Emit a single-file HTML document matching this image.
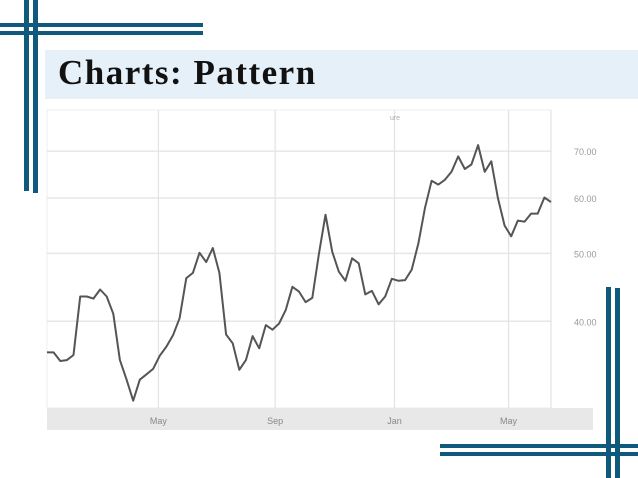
<!DOCTYPE html>
<html><head><meta charset="utf-8"><style>
body{margin:0;width:638px;height:478px;background:#fff;overflow:hidden;position:relative;font-family:"Liberation Sans",sans-serif}
.b{position:absolute;background:#0f5a7c}
#title{position:absolute;left:45px;top:50px;width:593px;height:49px;background:#e6f0f8}
#title span{position:absolute;left:13px;top:3px;font-family:"Liberation Serif",serif;font-weight:bold;font-size:35px;letter-spacing:1.5px;color:#111}
svg{position:absolute;left:0;top:0}
</style></head><body>
<div class="b" style="left:24px;top:0;width:5px;height:191px"></div>
<div class="b" style="left:33px;top:0;width:5px;height:193px"></div>
<div class="b" style="left:0;top:23px;width:203px;height:4px"></div>
<div class="b" style="left:0;top:31px;width:203px;height:4px"></div>
<div class="b" style="left:606px;top:287px;width:5px;height:191px"></div>
<div class="b" style="left:615px;top:288px;width:5px;height:190px"></div>
<div class="b" style="left:440px;top:444px;width:198px;height:4px"></div>
<div class="b" style="left:440px;top:452px;width:198px;height:4px"></div>
<div id="title"><span>Charts: Pattern</span></div>
<svg id="chart" width="638" height="478"></svg>
<script>
const values=[36.1,36.1,35.1,35.2,35.8,43.4,43.4,43.1,44.4,43.4,41.0,35.2,33.0,30.8,33.0,33.6,34.2,35.7,36.8,38.2,40.4,46.1,46.9,50.1,48.6,50.9,46.9,38.3,37.2,34.1,35.2,38.1,36.6,39.5,38.9,39.7,41.5,44.8,44.1,42.6,43.2,49.9,56.8,50.3,47.1,45.7,49.2,48.4,43.7,44.2,42.3,43.4,46.0,45.7,45.8,47.4,51.7,58.1,63.5,62.7,63.7,65.4,68.8,66.0,67.0,71.4,65.4,67.7,60.0,54.8,52.9,55.7,55.5,57.0,57.0,60.1,59.2];
const yTicks=[40,50,60,70];
const yTickLabels=["40.00","50.00","60.00","70.00"];
const xTicks=[16.8,34.4,52.4,69.6];
const xTickLabels=["May","Sep","Jan","May"];
{
const NS="http://www.w3.org/2000/svg";
const svg=document.getElementById('chart');
const x0=47,x1=551,plotTop=110,plotBot=408;
const X=i=>x0+(x1-x0)*i/(values.length-1);
const Y=v=>198-304*Math.log(v/60);
function mk(t,a){const e=document.createElementNS(NS,t);for(const k in a)e.setAttribute(k,a[k]);svg.appendChild(e);return e;}
let e=mk('rect',{x:x0,y:plotTop,width:x1-x0,height:plotBot-plotTop,fill:'none',stroke:'#eee'});


yTicks.forEach((t,i)=>{
 let l=mk('line',{x1:x0,x2:x1,y1:Y(t),y2:Y(t),stroke:'#e6e6e6','stroke-width':1.5});
 
 
 let tx=mk('text',{x:574,y:Y(t)+4,'font-size':9,fill:'#999','text-anchor':'start'});
 tx.textContent=yTickLabels[i];
 
 
});
e=mk('rect',{x:x0,y:plotBot,width:546,height:22,fill:'#e8e8e8'});


xTicks.forEach((t,i)=>{
 let l=mk('line',{x1:X(t),x2:X(t),y1:plotTop,y2:plotBot,stroke:'#e2e2e2','stroke-width':1.2});
 
 
 let tx=mk('text',{x:X(t),y:424,'font-size':9,fill:'#888','text-anchor':'middle'});
 tx.textContent=xTickLabels[i];
 
 
});
e=mk('line',{x1:x1,x2:x1,y1:plotTop,y2:plotBot,stroke:'#e2e2e2','stroke-width':1.2});


e=mk('text',{x:395,y:120,'font-size':7,fill:'#aaa','text-anchor':'middle'});
e.textContent='ure';


const p=mk('polyline',{points:values.map((v,i)=>X(i).toFixed(1)+','+Y(v).toFixed(1)).join(' '),fill:'none',stroke:'#555','stroke-width':2,'stroke-linejoin':'round'});


}
</script>
</body></html>
